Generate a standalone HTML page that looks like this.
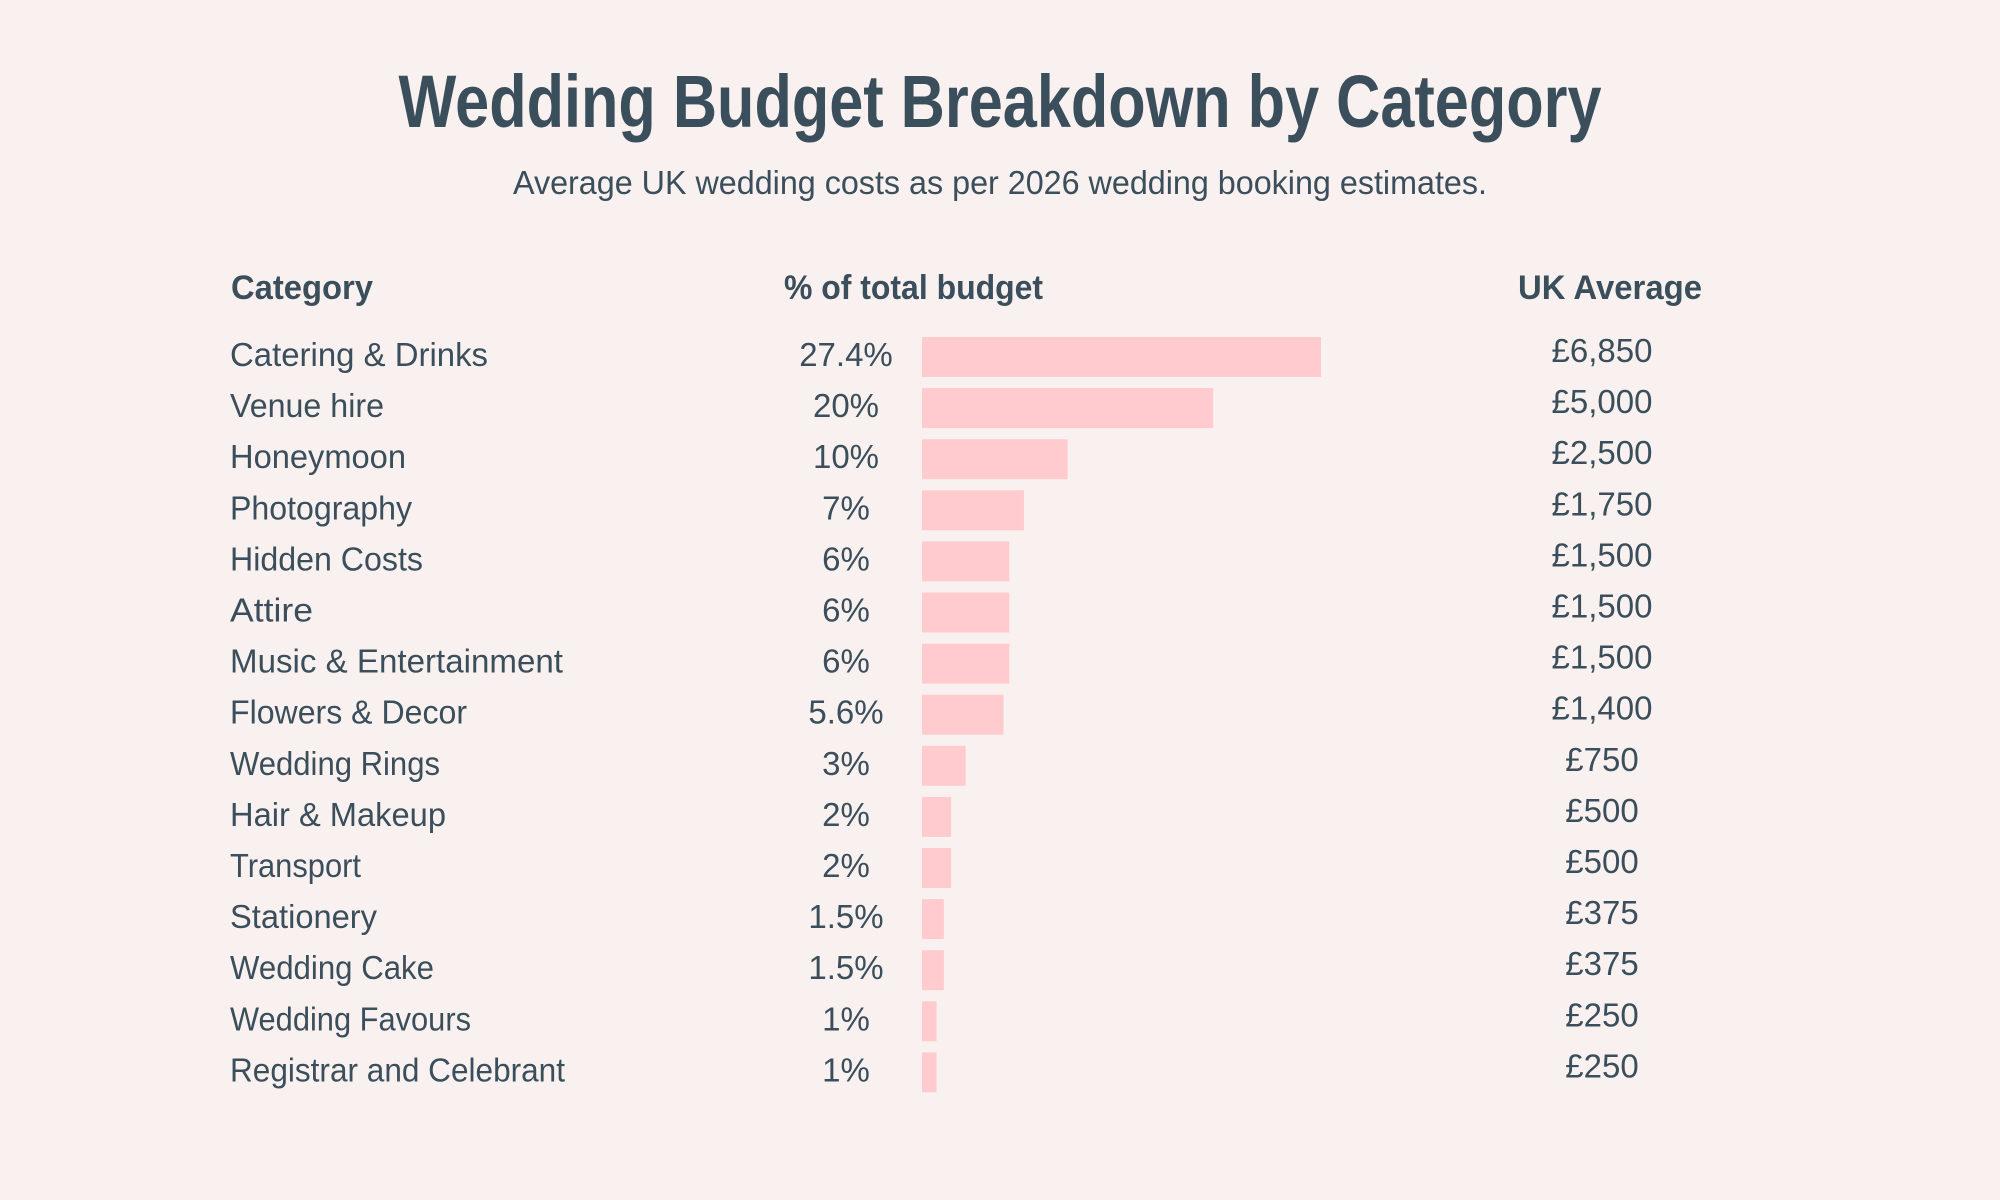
<!DOCTYPE html>
<html><head><meta charset="utf-8"><style>
html,body{margin:0;padding:0;background:#f9f1ef;}
svg{display:block;font-family:"Liberation Sans",sans-serif;}
</style></head><body>
<svg width="2000" height="1200" viewBox="0 0 2000 1200" xmlns="http://www.w3.org/2000/svg">
<rect width="2000" height="1200" fill="#f9f1ef"/>
<g fill="#3b4e5b">
<text x="1000" y="127" text-anchor="middle" font-size="74" font-weight="bold" textLength="1203" lengthAdjust="spacingAndGlyphs">Wedding Budget Breakdown by Category</text>
<text x="1000" y="194" text-anchor="middle" font-size="33" textLength="974" lengthAdjust="spacingAndGlyphs">Average UK wedding costs as per 2026 wedding booking estimates.</text>
<g font-size="34" font-weight="bold">
<text x="231" y="299" textLength="142" lengthAdjust="spacingAndGlyphs">Category</text>
<text x="784" y="299" textLength="259" lengthAdjust="spacingAndGlyphs">% of total budget</text>
<text x="1518" y="299" textLength="184" lengthAdjust="spacingAndGlyphs">UK Average</text>
</g>
<g font-size="33" id="rows">
</g>
</g>
<g fill="#ffcbcf" id="bars"></g>
<script>
var d=[["Catering & Drinks",258,"27.4%",27.4,"£6,850"],["Venue hire",154,"20%",20,"£5,000"],["Honeymoon",176,"10%",10,"£2,500"],["Photography",182,"7%",7,"£1,750"],["Hidden Costs",193,"6%",6,"£1,500"],["Attire",83,"6%",6,"£1,500"],["Music & Entertainment",333,"6%",6,"£1,500"],["Flowers & Decor",237,"5.6%",5.6,"£1,400"],["Wedding Rings",210,"3%",3,"£750"],["Hair & Makeup",216,"2%",2,"£500"],["Transport",131,"2%",2,"£500"],["Stationery",147,"1.5%",1.5,"£375"],["Wedding Cake",204,"1.5%",1.5,"£375"],["Wedding Favours",241,"1%",1,"£250"],["Registrar and Celebrant",335,"1%",1,"£250"]];
var ns="http://www.w3.org/2000/svg",rows=document.getElementById("rows"),bars=document.getElementById("bars");
function t(p,x,y,s,anc,w){var e=document.createElementNS(ns,"text");e.setAttribute("x",x);e.setAttribute("y",y);if(anc)e.setAttribute("text-anchor",anc);if(w){e.setAttribute("textLength",w);e.setAttribute("lengthAdjust","spacingAndGlyphs");}e.textContent=s;p.appendChild(e);}
d.forEach(function(r,i){var y=366+i*51.1;
t(rows,230,y,r[0],null,r[1]);
t(rows,846,y,r[2],"middle");
t(rows,1602,y-4,r[4],"middle");
var b=document.createElementNS(ns,"rect");b.setAttribute("x",922);b.setAttribute("y",337+i*51.1);b.setAttribute("width",r[3]*14.56);b.setAttribute("height",40);bars.appendChild(b);});
</script>
</svg>
</body></html>
